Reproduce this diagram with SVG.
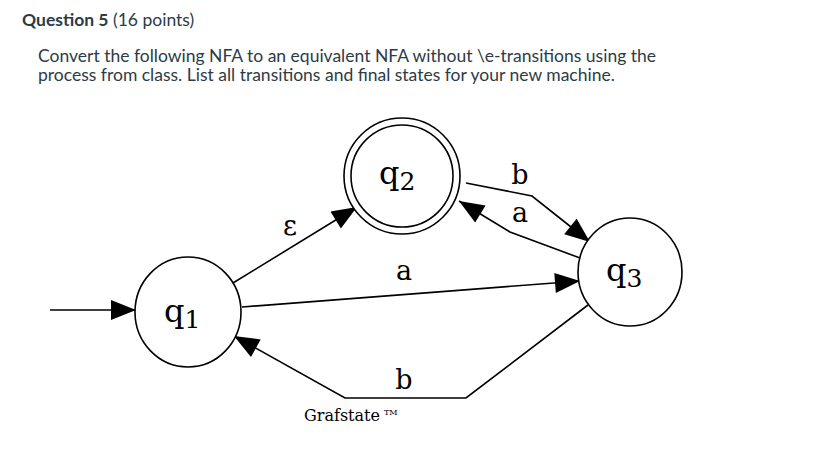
<svg xmlns="http://www.w3.org/2000/svg" width="823" height="463" viewBox="0 0 823 463">
<style>
.hd{font-family:Lato,"Liberation Sans",sans-serif;font-size:17.5px;fill:#2d3b45}
.st{fill:#fff;stroke:#000;stroke-width:1.6}
.e{fill:none;stroke:#000;stroke-width:1.6}
.lb{font-family:"DejaVu Serif",serif;font-size:32px;fill:#000}
.el{font-family:"DejaVu Serif",serif;font-size:27px;fill:#000;text-anchor:middle}
</style>
<defs><marker id="a" viewBox="0 0 10 8" refX="10" refY="4" markerWidth="26" markerHeight="20" markerUnits="userSpaceOnUse" orient="auto"><path d="M0,0L10,4L0,8z" fill="#000"/></marker></defs>
<rect width="823" height="463" fill="#fff"/>
<text x="22" y="26" class="hd" font-size="19.5"><tspan font-weight="bold">Question 5</tspan> (16 points)</text>
<text x="38" y="62" class="hd">Convert the following NFA to an equivalent NFA without \e-transitions using the</text>
<text x="38" y="81" class="hd">process from class. List all transitions and final states for your new machine.</text>
<g id="edges">
<line class="e" x1="50" y1="310" x2="136" y2="310" marker-end="url(#a)"/>
<line class="e" x1="233" y1="283" x2="357" y2="207" marker-end="url(#a)"/>
<polyline class="e" points="466,183 532,196 590,242" marker-end="url(#a)"/>
<polyline class="e" points="580,258 510,232 459,201" marker-end="url(#a)"/>
<line class="e" x1="242" y1="307" x2="580" y2="281" marker-end="url(#a)"/>
<polyline class="e" points="588,305 466,398 345,398 234,336" marker-end="url(#a)"/>
<text class="el" x="290" y="235">ε</text>
<text class="el" x="520" y="184">b</text>
<text class="el" x="520" y="222">a</text>
<text class="el" x="404" y="280">a</text>
<text class="el" x="404" y="389">b</text>
</g>
<g id="q1"><ellipse class="st" cx="188" cy="312" rx="53" ry="55"/><text class="lb" x="164" y="322">q<tspan font-size="25" dy="6">1</tspan></text></g>
<g id="q2"><circle class="st" cx="402" cy="176" r="58"/><circle class="st" cx="402" cy="176" r="51"/><text class="lb" x="379" y="184">q<tspan font-size="25" dy="6">2</tspan></text></g>
<g id="q3"><ellipse class="st" cx="630" cy="272" rx="52" ry="54"/><text class="lb" x="606" y="281">q<tspan font-size="25" dy="6">3</tspan></text></g>
<text x="304" y="421" font-family="DejaVu Serif,serif" font-size="16">Grafstate<tspan font-size="8" dx="4" dy="-6">TM</tspan></text>
</svg>
